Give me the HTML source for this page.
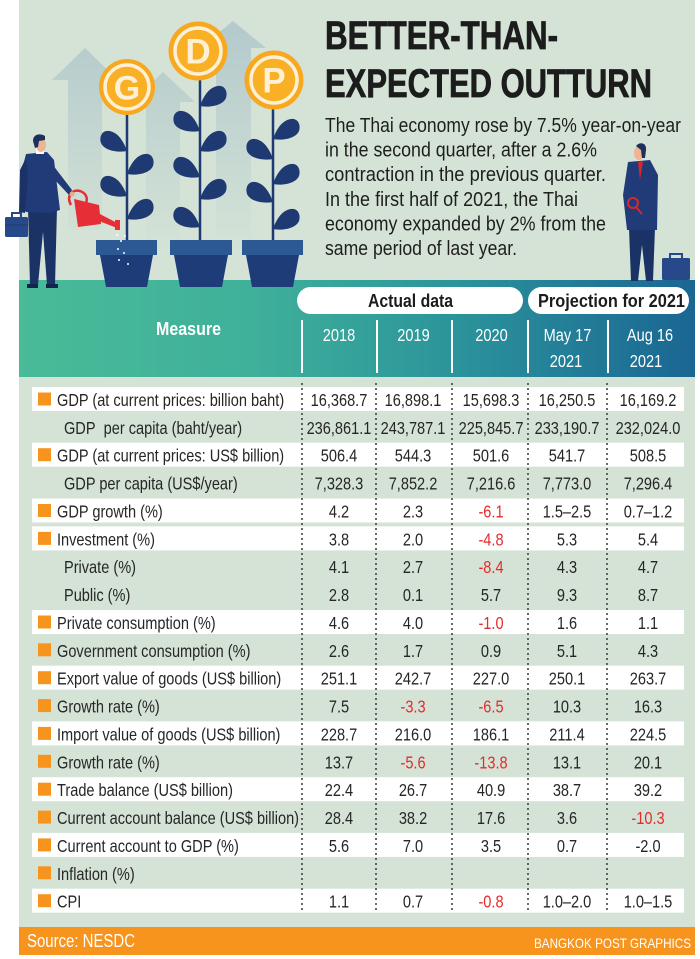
<!DOCTYPE html>
<html><head><meta charset="utf-8">
<style>
html,body{margin:0;padding:0;background:#fff;}
svg{display:block;}
text{font-family:"Liberation Sans",Arial,sans-serif;}
</style></head><body>
<svg width="700" height="959" viewBox="0 0 700 959" xmlns="http://www.w3.org/2000/svg">
<defs>
<linearGradient id="band" x1="19" y1="0" x2="695" y2="0" gradientUnits="userSpaceOnUse">
<stop offset="0" stop-color="#49bb98"/><stop offset="0.35" stop-color="#3fb09a"/><stop offset="0.65" stop-color="#2b939b"/><stop offset="1" stop-color="#1a6693"/>
</linearGradient>
<linearGradient id="arr" x1="0" y1="20" x2="0" y2="250" gradientUnits="userSpaceOnUse">
<stop offset="0" stop-color="#b3c9cc"/><stop offset="1" stop-color="#d4e3d6"/>
</linearGradient>
<path id="leaf" d="M0,0 C-3,-9 -9,-19 -18,-20 C-25,-21 -28,-14 -26,-8 C-23,-1 -11,2 0,0 Z" fill="#1f3a72"/>
</defs>

<!-- background -->
<rect x="19" y="0" width="676" height="927" fill="#d4e3d6"/>

<!-- background arrows -->
<polygon points="85,48 118,80 102,80 102,230 68,230 68,80 52,80" fill="url(#arr)"/>
<polygon points="163,72 195,102 180,102 180,250 146,250 146,102 131,102" fill="url(#arr)"/>
<polygon points="233,21 266,48 251,48 251,250 216,250 216,48 200,48" fill="url(#arr)"/>

<!-- title -->
<text x="325" y="49" font-size="40" font-weight="700" fill="#1c1c1c" stroke="#1c1c1c" stroke-width="0.8" textLength="233" lengthAdjust="spacingAndGlyphs">BETTER-THAN-</text>
<text x="325" y="97" font-size="40" font-weight="700" fill="#1c1c1c" stroke="#1c1c1c" stroke-width="0.8" textLength="327" lengthAdjust="spacingAndGlyphs">EXPECTED OUTTURN</text>

<!-- paragraph -->
<g font-size="20.5" fill="#1e1e1e">
<text x="325" y="132" textLength="356" lengthAdjust="spacingAndGlyphs">The Thai economy rose by 7.5% year-on-year</text>
<text x="325" y="156.6" textLength="272" lengthAdjust="spacingAndGlyphs">in the second quarter, after a 2.6%</text>
<text x="325" y="181.2" textLength="281" lengthAdjust="spacingAndGlyphs">contraction in the previous quarter.</text>
<text x="325" y="205.8" textLength="253" lengthAdjust="spacingAndGlyphs">In the first half of 2021, the Thai</text>
<text x="325" y="230.4" textLength="281" lengthAdjust="spacingAndGlyphs">economy expanded by 2% from the</text>
<text x="325" y="255" textLength="192" lengthAdjust="spacingAndGlyphs">same period of last year.</text>
</g>

<!-- teal header band -->
<rect x="19" y="280" width="676" height="97" fill="url(#band)"/>

<!-- stems -->
<line x1="127" y1="112" x2="127" y2="242" stroke="#1f3a72" stroke-width="2.5"/>
<line x1="200" y1="78" x2="200" y2="242" stroke="#1f3a72" stroke-width="2.5"/>
<line x1="273" y1="106" x2="273" y2="242" stroke="#1f3a72" stroke-width="2.5"/>

<!-- leaves -->
<use href="#leaf" transform="translate(127 151)"/>
<use href="#leaf" transform="translate(127 196)"/>
<use href="#leaf" transform="translate(127 174) scale(-1 1)"/>
<use href="#leaf" transform="translate(127 219) scale(-1 1)"/>

<use href="#leaf" transform="translate(200 106) scale(-1 1)"/>
<use href="#leaf" transform="translate(200 151) scale(-1 1)"/>
<use href="#leaf" transform="translate(200 199) scale(-1 1)"/>
<use href="#leaf" transform="translate(200 131)"/>
<use href="#leaf" transform="translate(200 177)"/>
<use href="#leaf" transform="translate(200 227)"/>

<use href="#leaf" transform="translate(273 139) scale(-1 1)"/>
<use href="#leaf" transform="translate(273 184) scale(-1 1)"/>
<use href="#leaf" transform="translate(273 229) scale(-1 1)"/>
<use href="#leaf" transform="translate(273 159)"/>
<use href="#leaf" transform="translate(273 202)"/>

<!-- coins -->
<circle cx="127" cy="87" r="28" fill="#f7a81e"/>
<circle cx="127" cy="87" r="22" fill="#f9b024" stroke="#fdf0d5" stroke-width="3.5"/>
<text x="127" y="99.5" text-anchor="middle" font-size="34" font-weight="700" fill="#fdf0d5">G</text>
<circle cx="198" cy="51" r="29.5" fill="#f7a81e"/>
<circle cx="198" cy="51" r="23" fill="#f9b024" stroke="#fdf0d5" stroke-width="3.5"/>
<text x="198" y="63.5" text-anchor="middle" font-size="35" font-weight="700" fill="#fdf0d5">D</text>
<circle cx="274" cy="80" r="29.5" fill="#f7a81e"/>
<circle cx="274" cy="80" r="23" fill="#f9b024" stroke="#fdf0d5" stroke-width="3.5"/>
<text x="274" y="92.5" text-anchor="middle" font-size="35" font-weight="700" fill="#fdf0d5">P</text>

<!-- pots -->
<polygon points="100,255 153,255 147,287 106,287" fill="#1e3c78"/>
<rect x="96" y="240" width="61" height="15" fill="#2c5894"/>
<polygon points="174,255 228,255 222,287 180,287" fill="#1e3c78"/>
<rect x="170" y="240" width="62" height="15" fill="#2c5894"/>
<polygon points="246,255 299,255 293,287 252,287" fill="#1e3c78"/>
<rect x="242" y="240" width="61" height="15" fill="#2c5894"/>

<!-- water drops -->
<g fill="#ffffff">
<circle cx="117" cy="235" r="1"/><circle cx="121" cy="241" r="1"/><circle cx="125" cy="236" r="1"/>
<circle cx="118" cy="249" r="1"/><circle cx="124" cy="253" r="1"/><circle cx="119" cy="260" r="1"/><circle cx="128" cy="264" r="1"/>
</g>

<!-- watering can -->
<path d="M71 205 C66 196 72 189 80 191 C86 193 88 198 86 203" fill="none" stroke="#e52e35" stroke-width="2.5"/>
<polygon points="74,199 99,205 101,224 78,227" fill="#e52e35"/>
<polygon points="98,213 117,223 117,228 99,221" fill="#e52e35"/>
<rect x="115" y="220" width="5" height="10" fill="#e52e35"/>

<!-- left man -->
<rect x="5" y="217" width="23" height="20" rx="1.5" fill="#27498a"/>
<path d="M12 217 v-4 h9 v4" fill="none" stroke="#27498a" stroke-width="2"/>
<line x1="5" y1="225" x2="28" y2="225" stroke="#1d3a72" stroke-width="1"/>
<path d="M28 208 L57 208 L55 285 L47 285 L43 232 L38 285 L30 285 Z" fill="#1b3266"/>
<rect x="27" y="284" width="11" height="4" fill="#14254d"/>
<rect x="46" y="284" width="12" height="4" fill="#14254d"/>
<path d="M26 154 L47 152 L54 160 L60 210 L50 213 L26 212 L21 206 L22 170 Z" fill="#213b78"/>
<path d="M26 158 L20 170 L19 212 L25 213 L28 175 Z" fill="#1b3266"/>
<path d="M46 156 L72 190 L69 195 L42 166 Z" fill="#213b78"/>
<circle cx="72" cy="194" r="2.5" fill="#eaa988"/>
<rect x="36" y="148" width="8" height="6" fill="#ffffff"/>
<ellipse cx="41" cy="145" rx="5" ry="7" fill="#efb491"/>
<path d="M33 141 C33 134 40 133 45 136 L45 140 L39 141 L38 147 L35 148 Z" fill="#1d2f5e"/>

<!-- right man -->
<rect x="662" y="258" width="28" height="22" rx="1.5" fill="#27498a"/>
<path d="M670 258 v-4 h12 v4" fill="none" stroke="#27498a" stroke-width="2"/>
<path d="M629 228 L655 228 L653 281 L646 281 L642 245 L638 281 L631 281 Z" fill="#1b3266"/>
<path d="M628 162 L650 160 L658 175 L657 230 L627 230 L623 195 Z" fill="#213b78"/>
<path d="M638 162 L643 161 L640 180 Z" fill="#d9262c"/>
<ellipse cx="639" cy="153" rx="5" ry="7" fill="#efb491"/>
<path d="M636 146 C640 141 647 143 646 150 L645 158 L642 158 L641 150 Z" fill="#1d2f5e"/>
<circle cx="633" cy="203" r="5" fill="none" stroke="#d9262c" stroke-width="2"/>
<line x1="636" y1="207" x2="642" y2="214" stroke="#d9262c" stroke-width="2"/>

<!-- header pills -->
<rect x="297" y="287" width="226" height="27" rx="13.5" fill="#ffffff"/>
<rect x="528" y="287" width="161" height="27" rx="13.5" fill="#ffffff"/>
<text x="368" y="307" font-size="18" font-weight="700" fill="#1c1c1c" textLength="85" lengthAdjust="spacingAndGlyphs">Actual data</text>
<text x="538" y="307" font-size="18" font-weight="700" fill="#1c1c1c" textLength="147" lengthAdjust="spacingAndGlyphs">Projection for 2021</text>
<text x="156" y="335" font-size="18" font-weight="700" fill="#ffffff" textLength="65" lengthAdjust="spacingAndGlyphs">Measure</text>

<!-- header dividers -->
<g stroke="#ffffff" stroke-width="2">
<line x1="302" y1="320" x2="302" y2="373"/>
<line x1="377" y1="320" x2="377" y2="373"/>
<line x1="452" y1="320" x2="452" y2="373"/>
<line x1="528" y1="320" x2="528" y2="373"/>
<line x1="608" y1="320" x2="608" y2="373"/>
</g>

<g transform="scale(0.81 1)" font-size="18" fill="#ffffff" text-anchor="middle">
<text x="418.5" y="341">2018</text>
<text x="510.5" y="341">2019</text>
<text x="606.8" y="341">2020</text>
<text x="700.6" y="341">May 17</text>
<text x="802.5" y="341">Aug 16</text>
<text x="698.8" y="367">2021</text>
<text x="797.5" y="367">2021</text>
</g>

<!-- white rows -->
<g fill="#ffffff">
<rect x="32" y="387" width="652" height="24"/>
<rect x="32" y="442.7" width="652" height="24"/>
<rect x="32" y="498.5" width="652" height="24"/>
<rect x="32" y="526.4" width="652" height="24"/>
<rect x="32" y="610" width="652" height="24"/>
<rect x="32" y="665.7" width="652" height="24"/>
<rect x="32" y="721.4" width="652" height="24"/>
<rect x="32" y="777.2" width="652" height="24"/>
<rect x="32" y="832.9" width="652" height="24"/>
<rect x="32" y="888.7" width="652" height="24"/>
</g>

<!-- orange squares -->
<g fill="#f7941d">
<rect x="38" y="392.5" width="13" height="13"/>
<rect x="38" y="448.2" width="13" height="13"/>
<rect x="38" y="504" width="13" height="13"/>
<rect x="38" y="531.9" width="13" height="13"/>
<rect x="38" y="615.5" width="13" height="13"/>
<rect x="38" y="643.3" width="13" height="13"/>
<rect x="38" y="671.2" width="13" height="13"/>
<rect x="38" y="699.1" width="13" height="13"/>
<rect x="38" y="726.9" width="13" height="13"/>
<rect x="38" y="754.8" width="13" height="13"/>
<rect x="38" y="782.7" width="13" height="13"/>
<rect x="38" y="810.6" width="13" height="13"/>
<rect x="38" y="838.4" width="13" height="13"/>
<rect x="38" y="866.3" width="13" height="13"/>
<rect x="38" y="894.2" width="13" height="13"/>
</g>

<!-- dotted dividers -->
<g stroke="#3a3a3a" stroke-width="1.5" stroke-dasharray="2 3">
<line x1="302" y1="383" x2="302" y2="913"/>
<line x1="376" y1="383" x2="376" y2="913"/>
<line x1="452" y1="383" x2="452" y2="913"/>
<line x1="528" y1="383" x2="528" y2="913"/>
<line x1="607" y1="383" x2="607" y2="913"/>
</g>

<!-- labels -->
<g transform="scale(0.81 1)" font-size="18" fill="#262626">
<text x="70.4" y="406">GDP (at current prices: billion baht)</text>
<text x="79" y="433.9">GDP&#160; per capita (baht/year)</text>
<text x="70.4" y="461.7">GDP (at current prices: US$ billion)</text>
<text x="79" y="489.6">GDP per capita (US$/year)</text>
<text x="70.4" y="517.5">GDP growth (%)</text>
<text x="70.4" y="545.4">Investment (%)</text>
<text x="79" y="573.2">Private (%)</text>
<text x="79" y="601.1">Public (%)</text>
<text x="70.4" y="629">Private consumption (%)</text>
<text x="70.4" y="656.8">Government consumption (%)</text>
<text x="70.4" y="684.7">Export value of goods (US$ billion)</text>
<text x="70.4" y="712.6">Growth rate (%)</text>
<text x="70.4" y="740.4">Import value of goods (US$ billion)</text>
<text x="70.4" y="768.3">Growth rate (%)</text>
<text x="70.4" y="796.2">Trade balance (US$ billion)</text>
<text x="70.4" y="824.1">Current account balance (US$ billion)</text>
<text x="70.4" y="851.9">Current account to GDP (%)</text>
<text x="70.4" y="879.8">Inflation (%)</text>
<text x="70.4" y="907.7">CPI</text>
</g>

<!-- values -->
<g transform="scale(0.81 1)" font-size="18" fill="#262626" text-anchor="middle">
<text x="418.5" y="406">16,368.7</text><text x="509.9" y="406">16,898.1</text><text x="606.2" y="406">15,698.3</text><text x="700" y="406">16,250.5</text><text x="800" y="406">16,169.2</text>
<text x="418.5" y="433.9">236,861.1</text><text x="509.9" y="433.9">243,787.1</text><text x="606.2" y="433.9">225,845.7</text><text x="700" y="433.9">233,190.7</text><text x="800" y="433.9">232,024.0</text>
<text x="418.5" y="461.7">506.4</text><text x="509.9" y="461.7">544.3</text><text x="606.2" y="461.7">501.6</text><text x="700" y="461.7">541.7</text><text x="800" y="461.7">508.5</text>
<text x="418.5" y="489.6">7,328.3</text><text x="509.9" y="489.6">7,852.2</text><text x="606.2" y="489.6">7,216.6</text><text x="700" y="489.6">7,773.0</text><text x="800" y="489.6">7,296.4</text>
<text x="418.5" y="517.5">4.2</text><text x="509.9" y="517.5">2.3</text><text x="606.2" y="517.5" fill="#e42b2b">-6.1</text><text x="700" y="517.5">1.5–2.5</text><text x="800" y="517.5">0.7–1.2</text>
<text x="418.5" y="545.4">3.8</text><text x="509.9" y="545.4">2.0</text><text x="606.2" y="545.4" fill="#e42b2b">-4.8</text><text x="700" y="545.4">5.3</text><text x="800" y="545.4">5.4</text>
<text x="418.5" y="573.2">4.1</text><text x="509.9" y="573.2">2.7</text><text x="606.2" y="573.2" fill="#e42b2b">-8.4</text><text x="700" y="573.2">4.3</text><text x="800" y="573.2">4.7</text>
<text x="418.5" y="601.1">2.8</text><text x="509.9" y="601.1">0.1</text><text x="606.2" y="601.1">5.7</text><text x="700" y="601.1">9.3</text><text x="800" y="601.1">8.7</text>
<text x="418.5" y="629">4.6</text><text x="509.9" y="629">4.0</text><text x="606.2" y="629" fill="#e42b2b">-1.0</text><text x="700" y="629">1.6</text><text x="800" y="629">1.1</text>
<text x="418.5" y="656.8">2.6</text><text x="509.9" y="656.8">1.7</text><text x="606.2" y="656.8">0.9</text><text x="700" y="656.8">5.1</text><text x="800" y="656.8">4.3</text>
<text x="418.5" y="684.7">251.1</text><text x="509.9" y="684.7">242.7</text><text x="606.2" y="684.7">227.0</text><text x="700" y="684.7">250.1</text><text x="800" y="684.7">263.7</text>
<text x="418.5" y="712.6">7.5</text><text x="509.9" y="712.6" fill="#e42b2b">-3.3</text><text x="606.2" y="712.6" fill="#e42b2b">-6.5</text><text x="700" y="712.6">10.3</text><text x="800" y="712.6">16.3</text>
<text x="418.5" y="740.4">228.7</text><text x="509.9" y="740.4">216.0</text><text x="606.2" y="740.4">186.1</text><text x="700" y="740.4">211.4</text><text x="800" y="740.4">224.5</text>
<text x="418.5" y="768.3">13.7</text><text x="509.9" y="768.3" fill="#e42b2b">-5.6</text><text x="606.2" y="768.3" fill="#e42b2b">-13.8</text><text x="700" y="768.3">13.1</text><text x="800" y="768.3">20.1</text>
<text x="418.5" y="796.2">22.4</text><text x="509.9" y="796.2">26.7</text><text x="606.2" y="796.2">40.9</text><text x="700" y="796.2">38.7</text><text x="800" y="796.2">39.2</text>
<text x="418.5" y="824.1">28.4</text><text x="509.9" y="824.1">38.2</text><text x="606.2" y="824.1">17.6</text><text x="700" y="824.1">3.6</text><text x="800" y="824.1" fill="#e42b2b">-10.3</text>
<text x="418.5" y="851.9">5.6</text><text x="509.9" y="851.9">7.0</text><text x="606.2" y="851.9">3.5</text><text x="700" y="851.9">0.7</text><text x="800" y="851.9">-2.0</text>
<text x="418.5" y="907.7">1.1</text><text x="509.9" y="907.7">0.7</text><text x="606.2" y="907.7" fill="#e42b2b">-0.8</text><text x="700" y="907.7">1.0–2.0</text><text x="800" y="907.7">1.0–1.5</text>
</g>

<!-- footer -->
<rect x="19" y="927" width="676" height="28" fill="#f7941d"/>
<text x="27" y="947" font-size="18" fill="#ffffff" textLength="108" lengthAdjust="spacingAndGlyphs">Source: NESDC</text>
<text x="534" y="948" font-size="14" fill="#ffffff" textLength="157" lengthAdjust="spacingAndGlyphs">BANGKOK POST GRAPHICS</text>
</svg>
</body></html>
